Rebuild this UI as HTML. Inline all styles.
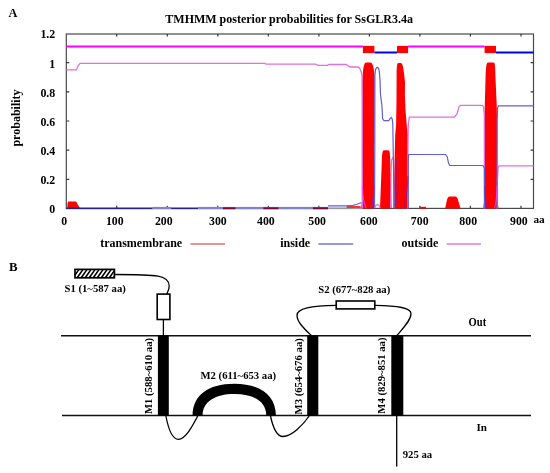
<!DOCTYPE html>
<html><head><meta charset="utf-8"><title>TMHMM SsGLR3.4a</title>
<style>
html,body{margin:0;padding:0;background:#fff;}
body{width:550px;height:473px;overflow:hidden;}
svg{display:block;}
text{font-family:"Liberation Serif","Times New Roman",serif;font-weight:bold;fill:#000;}
</style></head><body>
<svg width="550" height="473" viewBox="0 0 550 473">
<rect width="550" height="473" fill="#fff"/>
<!-- ===== Panel A ===== -->
<text x="8.6" y="16.5" font-size="12.3">A</text>
<text x="165.3" y="22.5" font-size="12">TMHMM posterior probabilities for SsGLR3.4a</text>

<!-- y axis label -->
<text transform="translate(20.3,118) rotate(-90)" text-anchor="middle" font-size="12">probability</text>

<!-- y tick labels -->
<g font-size="11.9" text-anchor="end">
<text x="55.3" y="38.3">1.2</text>
<text x="55.3" y="67.5">1</text>
<text x="55.3" y="96.7">0.8</text>
<text x="55.3" y="125.8">0.6</text>
<text x="55.3" y="155.0">0.4</text>
<text x="55.3" y="184.1">0.2</text>
<text x="55.3" y="213.3">0</text>
</g>
<!-- x tick labels -->
<g font-size="11.8" text-anchor="middle">
<text x="64.3" y="224.8">0</text>
<text x="114.8" y="224.8">100</text>
<text x="163.8" y="224.8">200</text>
<text x="217.9" y="224.8">300</text>
<text x="265.9" y="224.8">400</text>
<text x="317.1" y="224.8">500</text>
<text x="368.9" y="224.8">600</text>
<text x="419.7" y="224.8">700</text>
<text x="468.2" y="224.8">800</text>
<text x="518.9" y="224.8">900</text>
</g>
<text x="533.4" y="222.6" font-size="11.3">aa</text>

<!-- legend -->
<g font-size="12">
<text x="100.2" y="247">transmembrane</text>
<text x="280.2" y="247">inside</text>
<text x="401.6" y="247">outside</text>
</g>
<line x1="190.5" y1="244" x2="225" y2="244" stroke="#d87474" stroke-width="1.7"/>
<line x1="318.3" y1="244" x2="353.2" y2="244" stroke="#7676d0" stroke-width="1.7"/>
<line x1="446.7" y1="244" x2="481" y2="244" stroke="#e07ce0" stroke-width="1.7"/>

<!-- axes frame -->
<g stroke="#4a4a4a" stroke-width="1.2" fill="none">
<rect x="66.3" y="34" width="467.2" height="174.4"/>
</g>
<!-- ticks -->
<g stroke="#383838" stroke-width="1.2">
<path d="M66.3,62.6h3M66.3,91.8h3M66.3,121h3M66.3,150.1h3M66.3,179.3h3
M533.6,62.6h-3M533.6,91.8h-3M533.6,121h-3M533.6,150.1h-3M533.6,179.3h-3
M116.7,208.4v-2.6M167.3,208.4v-2.6M217.8,208.4v-2.6M268.3,208.4v-2.6M318.9,208.4v-2.6M369.4,208.4v-2.6M419.9,208.4v-2.6M470.4,208.4v-2.6M521,208.4v-2.6
M116.7,34v2.6M167.3,34v2.6M217.8,34v2.6M268.3,34v2.6M318.9,34v2.6M369.4,34v2.6M419.9,34v2.6M470.4,34v2.6M521,34v2.6"/>
</g>

<!-- red TM fills -->
<g fill="#ff0000">
<path d="M67.2,208.4 L67.6,203 C67.8,201.8 68,201.5 69,201.5 L76.2,201.5 L77.5,204 L79.5,207.4 L80.6,208.4 Z"/>
<path d="M361,208.4 L362.3,200 L362.2,120 L362.3,85 C362.6,72 363.4,62.4 366,62.4 L370.4,62.4 C372.6,62.4 374.4,68 374.6,77 L374.5,110 L374.2,150 L374.2,200 L375.2,208.4 Z"/>
<path d="M380,208.4 L381.8,162 C382.1,152 382.5,150.2 384.2,150.2 L388.2,150.2 C389.8,150.2 390.1,153 390.3,162 L391.6,208.4 Z"/>
<path d="M393.2,208.4 L394.1,180 L395.2,135 L396.1,125 L396.5,100 L396.6,75 C396.7,66 397,63.1 398.4,63.1 L400.8,63.1 C402.3,63.1 403,66 403.6,70 L404.4,76 L405,82.6 L404.9,95 L405.5,110 L406.7,125 L407.7,135 L407.9,180 L408.6,208.4 Z"/>
<path d="M445.2,208.4 L446.5,202 C447.2,198.5 447.8,196.4 449.5,196.4 L455.5,196.4 C457.2,196.4 457.8,198.5 458.6,202 L460.6,208.4 Z"/>
<path d="M483.2,208.4 L484.3,200 L484.3,125 L484.8,105 L485.6,76 C486,67 486.4,62.6 488,62.6 L493.8,62.6 C495,62.6 495.3,67 495.4,76 L496.7,105 L497.2,125 L497.2,200 L498.6,208.4 Z"/>
<rect x="346.6" y="206.2" width="14" height="2.4"/>
<rect x="419.7" y="206.8" width="6.2" height="1.8"/>
<!-- top bar blocks -->
<rect x="362.9" y="45.9" width="11.5" height="7.2"/>
<rect x="397" y="45.9" width="11.1" height="7.2"/>
<rect x="484.6" y="45.9" width="11.4" height="7.2"/>
</g>

<!-- top bar lines -->
<g stroke-width="2" fill="none">
<line x1="66.3" y1="46.4" x2="362.9" y2="46.4" stroke="#ff00ff"/>
<line x1="408.1" y1="46.4" x2="484.6" y2="46.4" stroke="#ff00ff"/>
<line x1="374.4" y1="52.5" x2="397" y2="52.5" stroke="#0000ee"/>
<line x1="496" y1="52.5" x2="533.6" y2="52.5" stroke="#0000ee"/>
</g>

<!-- outside (pink) thin line -->
<polyline fill="none" stroke="#e070e0" stroke-width="1.3" points="66.5,69.9 76.4,69.9 78,66 80,63.4 265,63.4 266,64.2 315.5,64.2 318,65.3 327.5,65.3 329,64.5 346,64.5 350,67 358,67 359.5,68 361.3,72 362,76 362.2,100 362.2,200 362.5,208.4"/>
<polyline fill="none" stroke="#e070e0" stroke-width="1.2" points="390.6,208 391.2,170 391.6,160 393,157.5 393.6,160 394,208"/>
<polyline fill="none" stroke="#e070e0" stroke-width="1.3" points="407.9,208.4 408,140 408.3,125 409.3,117.2 454.5,117.2 457,114 459,107 460.6,105.4 482.3,105.4 483.6,107 484.3,115 484.4,208.4"/>
<polyline fill="none" stroke="#e070e0" stroke-width="1.3" points="497.2,208.4 497.4,180 498.2,167 499,165.8 533.6,165.8"/>

<!-- inside (blue) thin line -->
<polyline fill="none" stroke="#6060d6" stroke-width="1.2" points="328,205.9 346.6,205.9 353,205.4 357,204.3 359.5,203.2 361.5,202.6"/>
<polyline fill="none" stroke="#6060d6" stroke-width="1.2" points="374.5,208.4 374.8,150 374.9,75 375.6,69.5 376.5,67.8 377.4,67.4 378.5,68.2 379.3,71.2 380,80 380.5,95 382,106.4 382.6,118.8 384,120.7 388.8,120.7 390,118.6 391.2,117.4 392.2,119 392.8,124 393.3,155 394.2,208.4"/>
<polyline fill="none" stroke="#6060d6" stroke-width="1.2" points="408.2,208.4 408.3,160 408.7,154.5 445.5,154.5 447.3,157 448.5,163 449.8,165.5 483,165.5 484.4,168 484.6,208.4"/>
<polyline fill="none" stroke="#6060d6" stroke-width="1.2" points="497,208.4 497.2,120 497.6,108 498.4,105.8 533.6,105.8"/>

<!-- interior lines over TM fills -->
<g fill="none" stroke-width="1.1">
<path d="M362.4,186 C362.8,197 363.8,204 366,208.2" stroke="#ff40ff" stroke-opacity="0.8"/>
<path d="M374.1,186 C373.8,197 372.8,204 370.6,208.2" stroke="#6a30c8" stroke-opacity="0.8"/>
<path d="M374.8,208 C375.6,203.5 379,203.5 380.2,208" stroke="#e070e0"/>
<path d="M396.3,160 L396.3,205" stroke="#7020c0" stroke-opacity="0.7" stroke-dasharray="3 2"/>
<path d="M407.8,176 C407.4,192 405.5,203 402.6,208.2" stroke="#7020c0" stroke-opacity="0.7"/>
<path d="M484.6,186 C485,197 485.8,204 487.5,208.2" stroke="#7020c0" stroke-opacity="0.6"/>
<path d="M497,186 C496.8,197 496,204 494.5,208.2" stroke="#ff40ff" stroke-opacity="0.7"/>
</g>
<!-- zero line segments -->
<g>
<rect x="66.3" y="207.6" width="86" height="1.6" fill="#23238a"/>
<rect x="152.2" y="206.9" width="19.1" height="2.4" fill="#8282d2"/>
<rect x="171.3" y="207.6" width="26.7" height="1.6" fill="#23238a"/>
<rect x="198" y="206.9" width="130" height="2.4" fill="#8282d2"/>
<rect x="222.9" y="207.3" width="12.6" height="1.9" fill="#7a0a3a"/>
<rect x="263.3" y="207.3" width="15.2" height="1.9" fill="#7a0a3a"/>
<rect x="312.9" y="207.3" width="15.1" height="1.9" fill="#7a0a3a"/>
<rect x="328" y="207.6" width="34" height="1.6" fill="#999"/>
</g>

<!-- ===== Panel B ===== -->
<text x="9.1" y="270.6" font-size="12.8">B</text>
<!-- membrane lines -->
<line x1="61" y1="335.8" x2="531" y2="335.8" stroke="#111" stroke-width="1.6"/>
<line x1="62" y1="415.5" x2="531" y2="415.5" stroke="#111" stroke-width="1.6"/>
<text x="468.6" y="325.8" font-size="11.6" textLength="17.6" lengthAdjust="spacingAndGlyphs">Out</text>
<text x="476.4" y="431" font-size="11.1">In</text>

<!-- S1 hatched box -->
<rect x="75" y="269.4" width="39.4" height="8.4" fill="#fff"/>
<path d="M75.00,275.15L79.03,269.40M77.18,277.80L83.06,269.40M81.20,277.80L87.09,269.40M85.23,277.80L91.11,269.40M89.26,277.80L95.14,269.40M93.29,277.80L99.17,269.40M97.32,277.80L103.20,269.40M101.35,277.80L107.23,269.40M105.38,277.80L111.26,269.40M109.40,277.80L114.40,270.66M113.43,277.80L114.40,276.42" stroke="#000" stroke-width="1.6" fill="none"/>
<rect x="75" y="269.4" width="39.4" height="8.4" fill="none" stroke="#000" stroke-width="1.7"/>
<text x="64.5" y="292.4" font-size="10.7">S1 (1~587 aa)</text>
<path d="M114.6,274.5 C135,274.5 150,274.8 158,276.2 C165.5,277.6 169.2,281 169.2,286 C169.2,289.5 167.6,291.8 166.8,294" fill="none" stroke="#000" stroke-width="1.3"/>
<rect x="157.2" y="294.1" width="12.7" height="25.4" fill="#fff" stroke="#000" stroke-width="1.6"/>
<line x1="163.4" y1="320" x2="163.4" y2="336" stroke="#000" stroke-width="1.3"/>

<!-- M1 -->
<rect x="157.9" y="335.5" width="10.9" height="80.3" fill="#000"/>
<text transform="translate(152.1,376) rotate(-90)" text-anchor="middle" font-size="10.7">M1 (588~610 aa)</text>
<!-- loop M1-M2 -->
<path d="M165.8,415.5 C168.5,430 172.5,439.3 178.4,439.3 C185.5,439.3 192.5,426 198,415.5" fill="none" stroke="#000" stroke-width="1.3"/>
<!-- M2 arc -->
<path d="M192.6,415.6 C192.6,395.5 208,383.7 234.25,383.7 C260.5,383.7 275.9,395.5 275.9,415.6 L266.3,415.6 C266.3,402 254.4,394 234.45,394 C214.5,394 202.6,402 202.6,415.6 Z" fill="#000"/>
<text x="200.5" y="378.6" font-size="10.7">M2 (611~653 aa)</text>
<!-- loop M2-M3 -->
<path d="M270.4,415.5 C273,428 277,436.5 283,436.5 C292,436.5 303,425 309.5,415.5" fill="none" stroke="#000" stroke-width="1.3"/>
<!-- M3 -->
<rect x="307.2" y="335.5" width="11.1" height="80.3" fill="#000"/>
<text transform="translate(302.1,376.3) rotate(-90)" text-anchor="middle" font-size="10.7">M3 (654~676 aa)</text>
<!-- S2 loop -->
<path d="M311.3,335.5 C304,328.5 297,322 297,315.2 C297,308.3 311,305.8 336,305.4 M375,305.4 C398,305.8 411,307.5 411,313.6 C411,320.5 403,328.5 396.8,335.5" fill="none" stroke="#000" stroke-width="1.3"/>
<rect x="336.2" y="301" width="38.6" height="7.9" fill="#fff" stroke="#000" stroke-width="1.6"/>
<text x="318.2" y="293.2" font-size="10.7">S2 (677~828 aa)</text>
<!-- M4 -->
<rect x="391.3" y="335.5" width="12" height="80.3" fill="#000"/>
<text transform="translate(385.4,375.6) rotate(-90)" text-anchor="middle" font-size="10.7">M4 (829~851 aa)</text>
<line x1="396.7" y1="415.5" x2="396.7" y2="466.4" stroke="#000" stroke-width="1.3"/>
<text x="402.7" y="458" font-size="10.7">925 aa</text>
</svg>
</body></html>
